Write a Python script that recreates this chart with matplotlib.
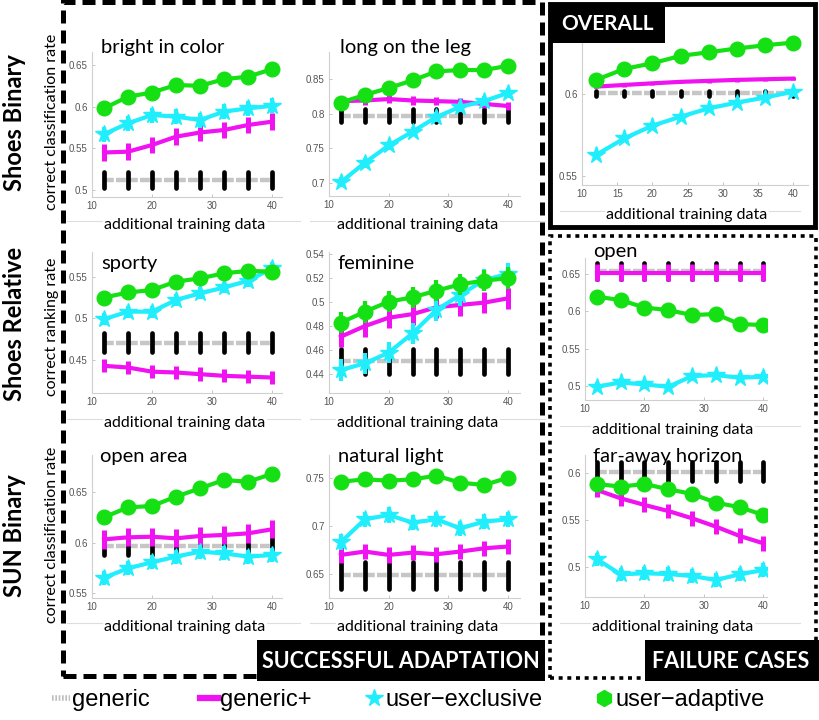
import numpy as np
import matplotlib
matplotlib.use("Agg")
import matplotlib.pyplot as plt
from matplotlib.lines import Line2D
from matplotlib.patches import Rectangle
from matplotlib.ticker import FuncFormatter
from matplotlib import font_manager as fm

# ---------------- data ----------------
x_train = [12, 16, 20, 24, 28, 32, 36, 40]
series_names = ["generic", "generic+", "user\u2212exclusive", "user\u2212adaptive"]

bright_generic = 0.512
bright_genplus = [0.545, 0.546, 0.554, 0.564, 0.569, 0.572, 0.578, 0.582]
bright_exclusive = [0.567, 0.580, 0.590, 0.588, 0.584, 0.594, 0.598, 0.601]
bright_adaptive = [0.598, 0.612, 0.617, 0.626, 0.625, 0.633, 0.636, 0.645]
bright_err = [0.010, 0.010, 0.009, 0.007]

leg_generic = 0.797
leg_genplus = [0.818, 0.819, 0.821, 0.819, 0.818, 0.817, 0.814, 0.811]
leg_exclusive = [0.701, 0.729, 0.754, 0.774, 0.795, 0.810, 0.818, 0.830]
leg_adaptive = [0.816, 0.827, 0.837, 0.848, 0.861, 0.863, 0.863, 0.869]
leg_err = [0.009, 0.006, 0.007, 0.006]

overall_generic = 0.6006
overall_genplus = [0.6047, 0.6057, 0.6067, 0.6076, 0.6082, 0.6088, 0.6092, 0.6096]
overall_exclusive = [0.5629, 0.5730, 0.5808, 0.5863, 0.5914, 0.5949, 0.5980, 0.6016]
overall_adaptive = [0.6088, 0.6155, 0.6190, 0.6235, 0.6257, 0.6280, 0.6300, 0.6316]
overall_err = [0.0015, 0.001, 0.001, 0.001]

sporty_generic = 0.471
sporty_genplus = [0.443, 0.441, 0.436, 0.435, 0.433, 0.431, 0.430, 0.429]
sporty_exclusive = [0.499, 0.508, 0.508, 0.522, 0.530, 0.537, 0.545, 0.560]
sporty_adaptive = [0.525, 0.531, 0.534, 0.544, 0.548, 0.554, 0.557, 0.556]
sporty_err = [0.011, 0.008, 0.007, 0.006]

feminine_generic = 0.4505
feminine_genplus = [0.4712, 0.4800, 0.4870, 0.4900, 0.4957, 0.4977, 0.4996, 0.5032]
feminine_exclusive = [0.4433, 0.4489, 0.4578, 0.4740, 0.4935, 0.5060, 0.5186, 0.5235]
feminine_adaptive = [0.4829, 0.4920, 0.5004, 0.5040, 0.5096, 0.5149, 0.5180, 0.5200]
feminine_err = [0.0105, 0.009, 0.009, 0.009]

open_generic = 0.654
open_genplus = [0.652, 0.652, 0.652, 0.652, 0.652, 0.652, 0.652, 0.652]
open_exclusive = [0.4987, 0.5045, 0.5018, 0.4987, 0.5130, 0.5143, 0.5108, 0.5121]
open_adaptive = [0.6196, 0.6150, 0.6050, 0.6016, 0.5949, 0.5963, 0.5828, 0.5815]
open_err = [0.011, 0.011, 0.006, 0.005]

openarea_generic = 0.5969
openarea_genplus = [0.6031, 0.6051, 0.6057, 0.6041, 0.6064, 0.6074, 0.6090, 0.6130]
openarea_exclusive = [0.5654, 0.5746, 0.5805, 0.5861, 0.5910, 0.5893, 0.5861, 0.5877]
openarea_adaptive = [0.6248, 0.6346, 0.6359, 0.6451, 0.6533, 0.6615, 0.6598, 0.6674]
openarea_err = [0.009, 0.009, 0.007, 0.007]

natural_generic = 0.6485
natural_genplus = [0.6697, 0.6732, 0.6697, 0.6721, 0.6704, 0.6732, 0.6766, 0.6784]
natural_exclusive = [0.6830, 0.7067, 0.7112, 0.7033, 0.7067, 0.6974, 0.7043, 0.7067]
natural_adaptive = [0.7458, 0.7483, 0.7469, 0.7483, 0.7521, 0.7448, 0.7424, 0.7500]
natural_err = [0.014, 0.008, 0.008, 0.006]

faraway_generic = 0.6018
faraway_genplus = [0.5821, 0.5732, 0.5661, 0.5596, 0.5518, 0.5429, 0.5329, 0.5250]
faraway_exclusive = [0.5079, 0.4918, 0.4929, 0.4921, 0.4900, 0.4857, 0.4918, 0.4964]
faraway_adaptive = [0.5886, 0.5857, 0.5886, 0.5829, 0.5779, 0.5686, 0.5636, 0.5554]
faraway_err = [0.010, 0.008, 0.007, 0.007]

# ---------------- style ----------------
W, H = 820, 720
C_GEN = "#c6c6c6"
C_PLUS = "#f012f0"
C_EXCL = "#20eefc"
C_ADAP = "#14e014"
CAL = "Lato"

names = {f.name for f in fm.fontManager.ttflist}
if "Liberation Sans Narrow" in names:
    LEG_FONT, LEG_SIZE = "Liberation Sans Narrow", 20
else:
    LEG_FONT, LEG_SIZE = "Liberation Sans", 17

fig = plt.figure(figsize=(W / 100, H / 100), dpi=100)
fig.patch.set_facecolor("white")


def fx(px):
    return px / W


def fy(py):
    return 1 - py / H


def add_ax(l, t, r, b):
    return fig.add_axes([fx(l), fy(b), (r - l) / W, (b - t) / H])


def panel(box, xlim, ylim, yticks, xticks, gen, plus, excl, adap, err):
    ax = add_ax(*box)
    xs = np.array(x_train)
    gline = np.full(len(xs), gen)
    ax.plot(xs, gline, color=C_GEN, lw=3.2, ls=(0, (2.2, 0.5)), zorder=2)
    eb = ax.errorbar(xs, gline, yerr=err[0], fmt="none", ecolor="black",
                     elinewidth=3.4, capsize=0, zorder=2.5)
    for lc in eb.lines[2]:
        lc.set_capstyle("round")
    ax.errorbar(xs, plus, yerr=err[1], color=C_PLUS, lw=3, elinewidth=3.6,
                capsize=0, zorder=3)
    ax.errorbar(xs, excl, yerr=err[2], color=C_EXCL, lw=3, elinewidth=3,
                capsize=0, marker="*", ms=13, mec=C_EXCL, zorder=4)
    ax.errorbar(xs, adap, yerr=err[3], color=C_ADAP, lw=3, elinewidth=3,
                capsize=0, marker="o", ms=10.5, mec=C_ADAP, zorder=5)
    ax.set_xlim(*xlim)
    ax.set_ylim(*ylim)
    ax.set_yticks(yticks)
    ax.set_xticks(xticks)
    fmt = FuncFormatter(lambda v, p: f"{v:g}")
    ax.yaxis.set_major_formatter(fmt)
    ax.xaxis.set_major_formatter(fmt)
    for s in ("top", "right"):
        ax.spines[s].set_visible(False)
    for s in ("left", "bottom"):
        ax.spines[s].set_color("#cfcfcf")
        ax.spines[s].set_linewidth(0.8)
    ax.tick_params(direction="in", length=2, width=0.6, color="#bbbbbb",
                   labelsize=7, labelcolor="#555555", pad=3)
    for lab in ax.get_xticklabels() + ax.get_yticklabels():
        lab.set_family("Liberation Sans")
    ax.set_facecolor("none")
    return ax


X_TICKS = [10, 20, 30, 40]
panel((92, 52, 282, 197), (10, 41.67), (0.4916, 0.6656), [0.5, 0.55, 0.6, 0.65], X_TICKS,
      bright_generic, bright_genplus, bright_exclusive, bright_adaptive, bright_err)
panel((329, 52, 520, 196), (10, 42), (0.681, 0.889), [0.7, 0.75, 0.8, 0.85], X_TICKS,
      leg_generic, leg_genplus, leg_exclusive, leg_adaptive, leg_err)
panel((582, 15, 808, 185), (10, 42.1), (0.5445, 0.6485), [0.55, 0.6], [10, 15, 20, 25, 30, 35, 40],
      overall_generic, overall_genplus, overall_exclusive, overall_adaptive, overall_err)
panel((92, 252, 282, 393), (10, 41.67), (0.4104, 0.5796), [0.45, 0.5, 0.55], X_TICKS,
      sporty_generic, sporty_genplus, sporty_exclusive, sporty_adaptive, sporty_err)
panel((329, 252, 520, 393), (10, 42), (0.4241, 0.5419), [0.44, 0.46, 0.48, 0.5, 0.52, 0.54], X_TICKS,
      feminine_generic, feminine_genplus, feminine_exclusive, feminine_adaptive, feminine_err)
panel((585, 258, 767, 400), (10, 40.6), (0.4809, 0.6715), [0.5, 0.55, 0.6, 0.65], X_TICKS,
      open_generic, open_genplus, open_exclusive, open_adaptive, open_err)
panel((92, 455, 282, 598), (10, 41.67), (0.5454, 0.6861), [0.55, 0.6, 0.65], X_TICKS,
      openarea_generic, openarea_genplus, openarea_exclusive, openarea_adaptive, openarea_err)
panel((329, 455, 520, 598), (10, 42), (0.6249, 0.7736), [0.65, 0.7, 0.75], X_TICKS,
      natural_generic, natural_genplus, natural_exclusive, natural_adaptive, natural_err)
panel((585, 455, 767, 597), (10, 40.6), (0.4675, 0.6196), [0.5, 0.55, 0.6], X_TICKS,
      faraway_generic, faraway_genplus, faraway_exclusive, faraway_adaptive, faraway_err)

# ---------------- texts ----------------
def ftext(px, py, s, **kw):
    return fig.text(fx(px), fy(py), s, **kw)


titles = [(101, 53, "bright in color"), (340, 53, "long on the leg"),
          (101, 269, "sporty"), (338, 269, "feminine"), (593, 257, "open"),
          (100, 462, "open area"), (338, 462, "natural light"),
          (593, 462, "far-away horizon")]
for px, py, s in titles:
    ftext(px, py, s, family=CAL, fontsize=14.5, va="baseline", ha="left", zorder=6)

# separator lines + x labels
xlabels = [(185, 225, 67, 300), (418, 225, 310, 545), (687, 215, 560, 800),
           (185, 423, 67, 300), (418, 423, 310, 545), (673, 430, 560, 800),
           (185, 627, 67, 300), (418, 627, 310, 545), (673, 627, 560, 800)]
for cx, cy, l, r in xlabels:
    fig.add_artist(Line2D([fx(l), fx(r)], [fy(cy - 4), fy(cy - 4)],
                          transform=fig.transFigure, color="#dddddd", lw=0.8, zorder=2))
    ftext(cx, cy, "additional training data", family=CAL, fontsize=11.5,
          ha="center", va="center", zorder=3,
          bbox=dict(facecolor="white", edgecolor="none", pad=1))

ylabels = [(122, "correct classification rate"), (327, "correct ranking rate"),
           (535, "correct classification rate")]
for cy, s in ylabels:
    ftext(52, cy, s, family=CAL, fontsize=11.5, rotation=90, ha="center", va="center")

rowlabels = [(123, "Shoes Binary"), (324, "Shoes Relative"), (536, "SUN Binary")]
for cy, s in rowlabels:
    ftext(15, cy, s, family=CAL, fontsize=17, fontweight="bold", rotation=90,
          ha="center", va="center")

# ---------------- frames ----------------
def frect(l, t, r, b, **kw):
    rect = Rectangle((fx(l), fy(b)), (r - l) / W, (b - t) / H,
                     transform=fig.transFigure, **kw)
    fig.add_artist(rect)
    return rect


frect(63, 2, 542, 676, fill=False, ec="black", lw=3.6, ls=(0, (2.6, 1.4)), zorder=7)
frect(550, 4, 815, 227, fill=False, ec="black", lw=3.5, zorder=7)
frect(550, 236, 816, 678, fill=False, ec="black", lw=2.6, ls=(0, (1.1, 1.3)), zorder=7)

frect(550, 3, 665, 43, fill=True, fc="black", ec="none", zorder=8)
ftext(608, 24, "OVERALL", family=CAL, fontsize=15, fontweight="bold", color="white",
      ha="center", va="center", zorder=9)
frect(257, 640, 545, 681, fill=True, fc="black", ec="none", zorder=8)
ftext(401, 661, "SUCCESSFUL ADAPTATION", family=CAL, fontsize=15.5, fontweight="bold",
      color="white", ha="center", va="center", zorder=9)
frect(645, 640, 820, 681, fill=True, fc="black", ec="none", zorder=8)
ftext(731, 661, "FAILURE CASES", family=CAL, fontsize=15.5, fontweight="bold",
      color="white", ha="center", va="center", zorder=9)

# ---------------- legend ----------------
handles = [
    Line2D([], [], color="#bdbdbd", lw=4, ls=(0, (0.3, 0.3))),
    Line2D([], [], color=C_PLUS, lw=4.5),
    Line2D([], [], ls="none", marker="*", ms=13, color=C_EXCL),
    Line2D([], [], ls="none", marker="h", ms=11.5, color=C_ADAP),
]
leg_x = [52, 200, 365, 595]
for h, name, lx in zip(handles, series_names, leg_x):
    fig.legend(handles=[h], labels=[name], loc="center left",
               bbox_to_anchor=(fx(lx), fy(700)), frameon=False,
               handlelength=0.75, handletextpad=0.1, borderpad=0, borderaxespad=0,
               prop={"family": LEG_FONT, "size": LEG_SIZE})

fig.savefig("out.png", dpi=100, facecolor="white")
